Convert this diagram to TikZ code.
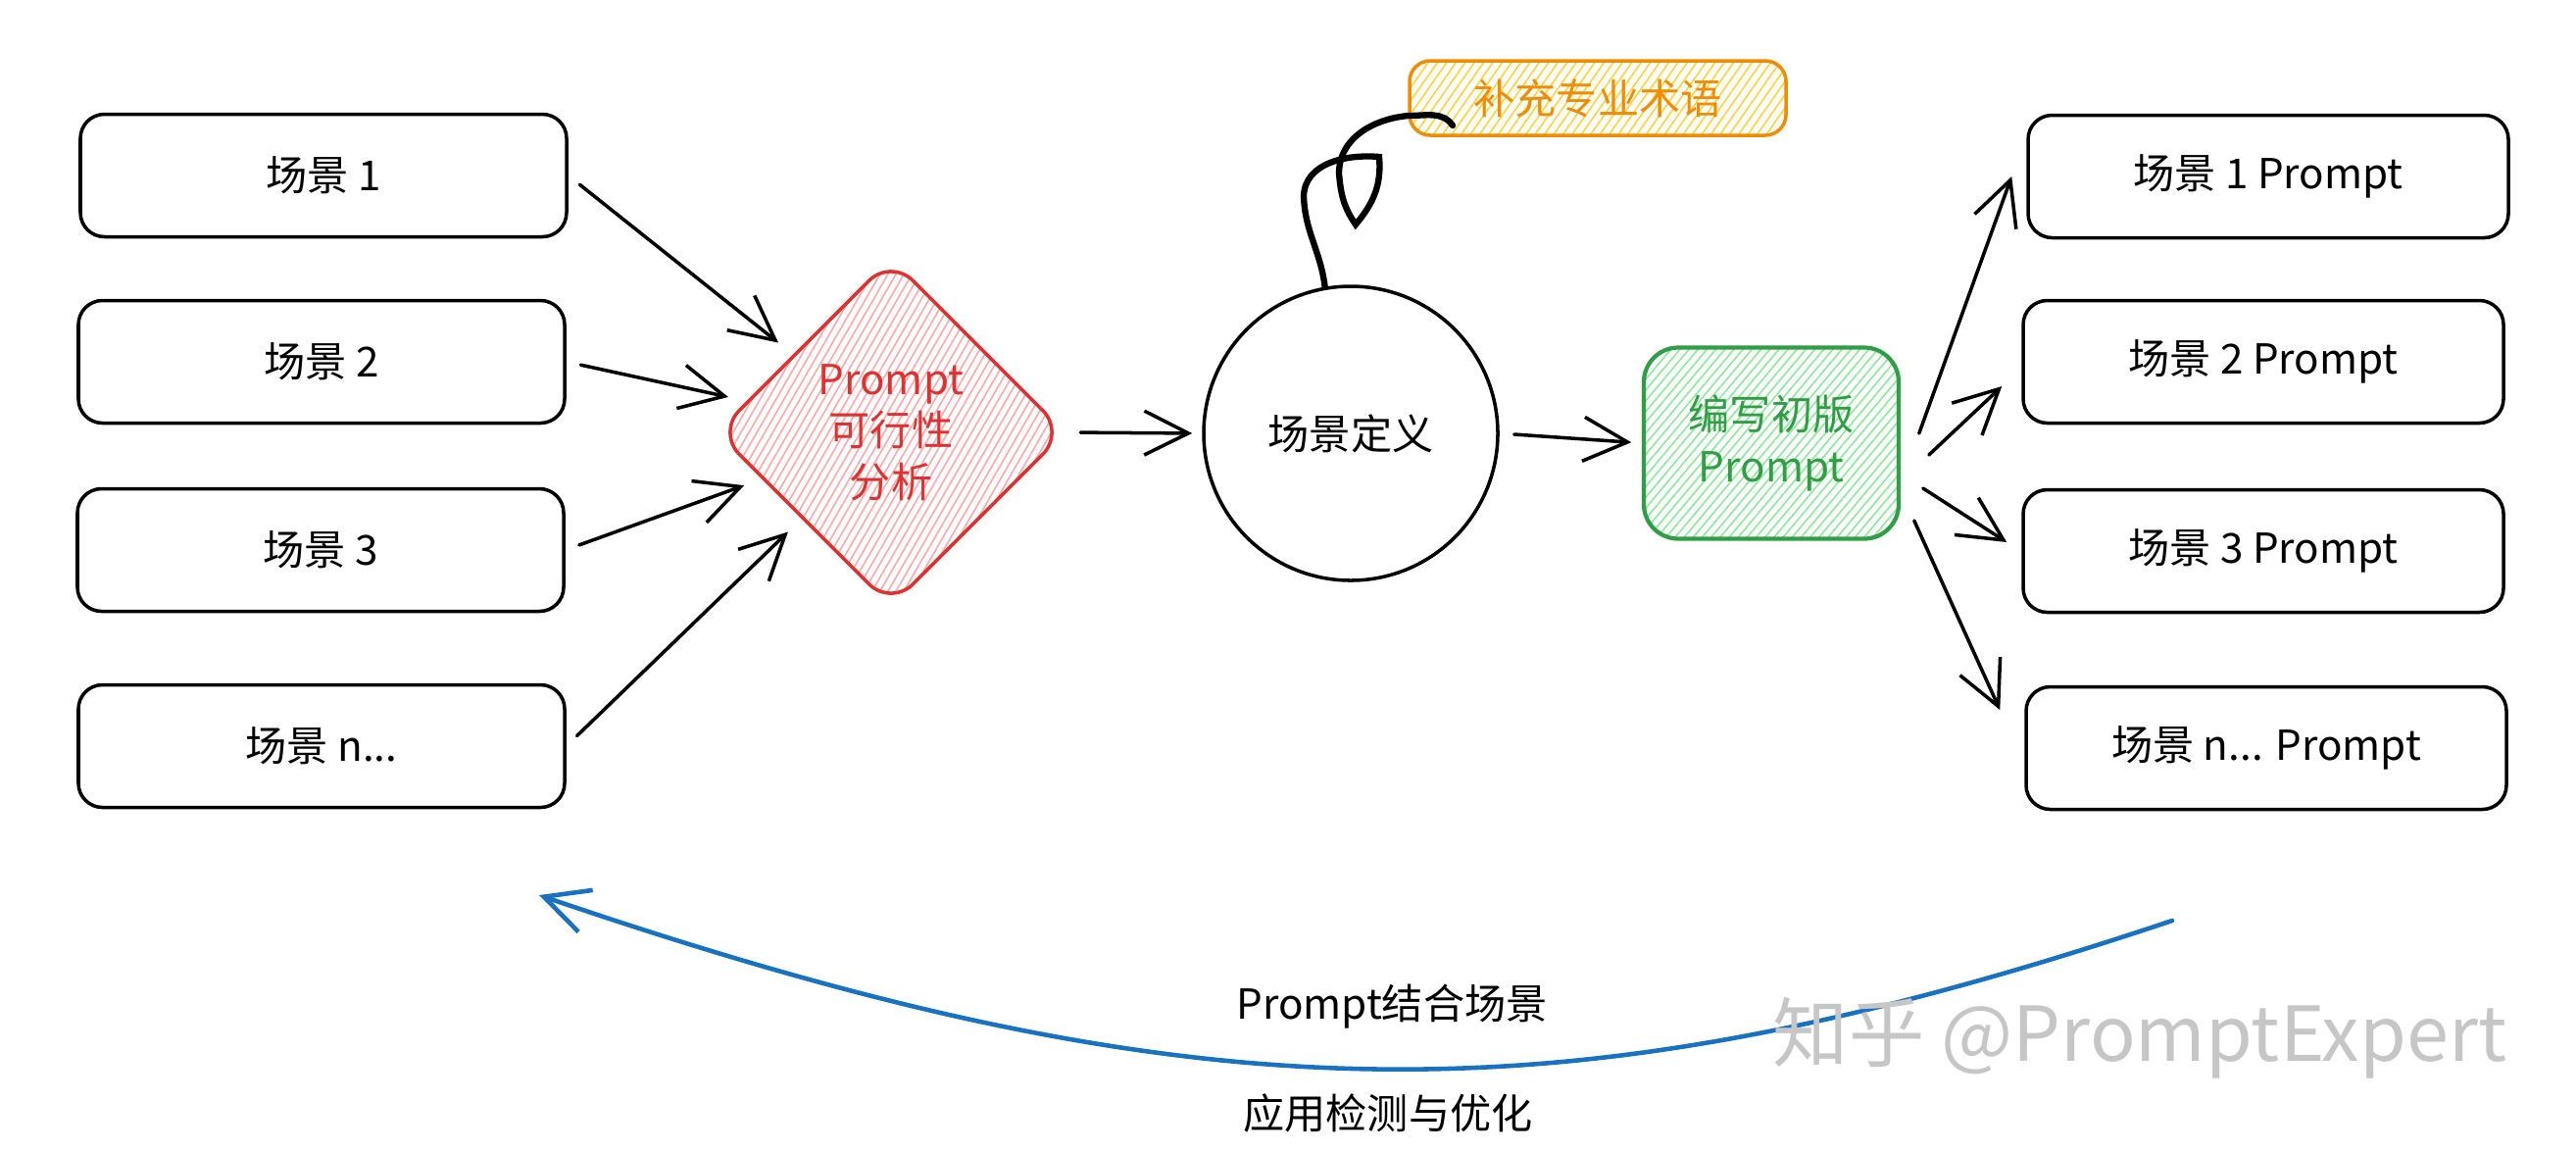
\documentclass[tikz,border=0pt]{standalone}
\usepackage{fontspec}
\setmainfont{Noto Sans CJK SC}
\usepackage{xcolor}
\usepackage{tikz}
\usetikzlibrary{shapes.geometric, arrows.meta, patterns.meta, calc}
\definecolor{exred}{HTML}{E03131}
\definecolor{exredfill}{HTML}{FFA8A8}
\definecolor{exgreen}{HTML}{2F9E44}
\definecolor{exgreenfill}{HTML}{8CE99A}
\definecolor{exorange}{HTML}{F08C00}
\definecolor{exyellow}{HTML}{FFD43B}
\definecolor{exblue}{HTML}{1971C2}
\tikzset{
  scene/.style={rectangle, rounded corners=7pt, draw=black, line width=1pt, minimum width=4.96cm, minimum height=1.25cm, align=center},
  check/.style={diamond, aspect=1, rounded corners=9pt, draw=exred, line width=1pt, text=exred, minimum width=3.55cm, minimum height=3.55cm, align=center, inner sep=1pt, pattern={Lines[angle=60,distance=2pt,line width=0.45pt]}, pattern color=exredfill},
  define/.style={circle, draw=black, line width=1pt, minimum size=3.0cm, align=center},
  draft/.style={rectangle, rounded corners=10pt, draw=exgreen, line width=1.2pt, text=exgreen, minimum width=2.6cm, minimum height=1.95cm, align=center, pattern={Lines[angle=50,distance=2pt,line width=0.45pt]}, pattern color=exgreenfill},
  term/.style={rectangle, rounded corners=6pt, draw=exorange, line width=1pt, text=exorange, minimum width=3.84cm, minimum height=0.76cm, align=center, pattern={Lines[angle=55,distance=2.2pt,line width=0.45pt]}, pattern color=exyellow},
  arrow/.style={-{Straight Barb[length=4.5mm,width=4.5mm]}, line width=1pt, line cap=round, shorten >=2mm, shorten <=1.5mm},
}

\begin{document}
\begin{tikzpicture}[
  font=\fontsize{12}{15}\selectfont,
  loopback/.style={-{Straight Barb[length=4.5mm,width=4.5mm]}, draw=exblue, line width=1.3pt, line cap=round}]

\useasboundingbox (0,0) rectangle (26.28,-11.74);

% scenario boxes (left)
\node[scene] (sc1) at (3.30,-1.79) {场景 1};
\node[scene] (sc2) at (3.28,-3.69) {场景 2};
\node[scene] (sc3) at (3.27,-5.61) {场景 3};
\node[scene] (sc4) at (3.28,-7.61) {场景 n...};

% main flow
\node[check]  (feas)  at (9.09,-4.41) {Prompt\\可行性\\分析};
\node[define] (defn)  at (13.78,-4.42) {场景定义};
\node[draft]  (draft) at (18.07,-4.52) {编写初版\\Prompt};
\node[term]   (term)  at (16.30,-1.00) {补充专业术语};

% prompt boxes (right)
\node[scene, minimum width=4.9cm] (sp1) at (23.14,-1.80) {场景 1 Prompt};
\node[scene, minimum width=4.9cm] (sp2) at (23.09,-3.69) {场景 2 Prompt};
\node[scene, minimum width=4.9cm] (sp3) at (23.09,-5.62) {场景 3 Prompt};
\node[scene, minimum width=4.9cm] (sp4) at (23.12,-7.63) {场景 n... Prompt};

% arrows into the check
\draw[arrow] (sc1.east) -- (feas);
\draw[arrow] (sc2.east) -- (feas);
\draw[arrow] (sc3.east) -- (feas);
\draw[arrow] (sc4.east) -- (feas);

\draw[arrow, shorten >=1mm] (feas.east) -- (defn.west);
\draw[arrow, shorten >=1.2mm] (defn.east) -- (draft.west);

% fan out to the prompts
\draw[arrow, shorten >=0mm, shorten <=0mm] ([xshift=2mm,yshift=1mm]draft.east) -- ([xshift=-1.5mm]sp1.west);
\draw[arrow, shorten >=0mm, shorten <=0mm] ([xshift=3mm,yshift=-1.2mm]draft.east) -- ([xshift=-2mm,yshift=-2.5mm]sp2.west);
\draw[arrow, shorten >=0mm, shorten <=0mm] ([xshift=2.4mm,yshift=-4.6mm]draft.east) -- ([xshift=-1.5mm,yshift=0.9mm]sp3.west);
\draw[arrow, shorten >=0mm, shorten <=0mm] ([xshift=1.5mm,yshift=-7.9mm]draft.east) -- ([xshift=-2.5mm,yshift=3.9mm]sp4.west);

% note line
\coordinate (tail) at (14.82,-1.28);
\draw[line width=1.8pt, line cap=round] (defn.100) to[out=97,in=-88] (13.30,-2.00) to[out=88,in=175] (14.07,-1.60)
  to[out=-85,in=50] (13.83,-2.29) to[out=125,in=-85] (13.66,-1.77) to[out=90,in=185] (14.37,-1.18) to[out=0,in=125] (tail);

% feedback loop
\coordinate (loopR) at (22.16,-9.39);
\coordinate (loopL) at (5.50,-9.13);
\draw[loopback] (loopR) .. controls (16.0,-11.45) and (12.3,-11.45) .. (loopL);
\node (lbl1) at (14.20,-10.27) {Prompt结合场景};
\node (lbl2) at (14.16,-11.35) {应用检测与优化};

% watermark
\node[text=gray!45, font=\fontsize{22}{26}\selectfont] (mark) at (21.83,-10.59) {知乎 @PromptExpert};
\end{tikzpicture}
\end{document}
